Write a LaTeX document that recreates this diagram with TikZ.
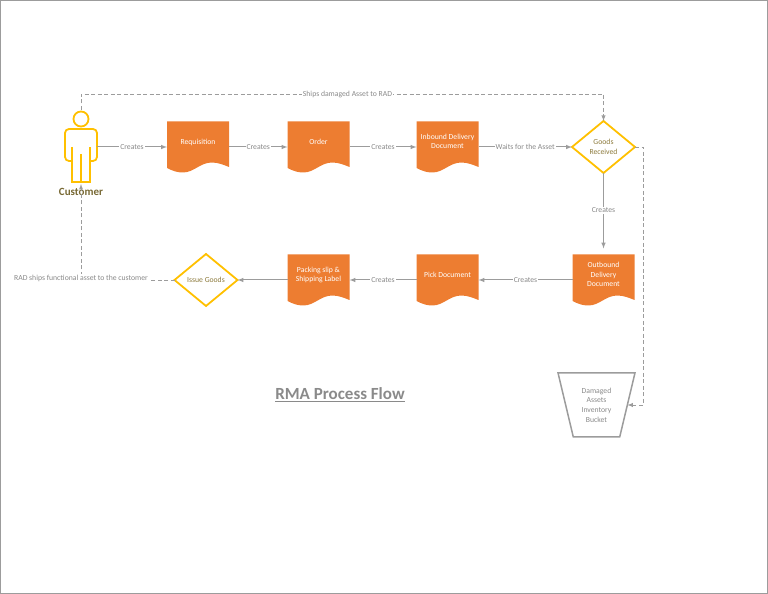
\documentclass[tikz,border=0pt]{standalone}
\usepackage{fontspec}
\setmainfont{Carlito}
\usetikzlibrary{positioning,shapes.geometric}
\definecolor{docfill}{HTML}{ED7D31}
\definecolor{decline}{HTML}{FFC000}
\definecolor{flowgray}{HTML}{9C9C9C}
\definecolor{labelgray}{HTML}{8A8A8A}
\definecolor{golden}{HTML}{8C7A3C}

\makeatletter
\newcommand\docpt[2]{\pgfpoint{\docx+#1pt}{\docy+#2pt}}
\pgfdeclareshape{wavedoc}{
  \inheritsavedanchors[from=rectangle]
  \inheritanchorborder[from=rectangle]
  \inheritanchor[from=rectangle]{center}
  \inheritanchor[from=rectangle]{north}
  \inheritanchor[from=rectangle]{south}
  \inheritanchor[from=rectangle]{east}
  \inheritanchor[from=rectangle]{west}
  \backgroundpath{
    \southwest
    \edef\docx{\the\pgf@x}\edef\docy{\the\pgf@y}
    \pgfpathmoveto{\docpt{0}{4.5}}
    \pgfpathcurveto{\docpt{6}{1.5}}{\docpt{10}{0}}{\docpt{16}{0}}
    \pgfpathcurveto{\docpt{27}{0}}{\docpt{33}{10}}{\docpt{45}{10}}
    \pgfpathcurveto{\docpt{51}{10}}{\docpt{57}{7.5}}{\docpt{62}{5.5}}
    \pgfpathlineto{\docpt{62}{51}}
    \pgfpathlineto{\docpt{0}{51}}
    \pgfpathclose
  }
}
\makeatother

\begin{document}
\begin{tikzpicture}[x=1pt, y=1pt, >=latex, on grid, line width=1pt,
    doc/.style={wavedoc, fill=docfill, minimum width=62pt, minimum height=51pt, inner sep=0pt, outer sep=0pt, align=center, text=white, text depth=11pt, font=\fontsize{7.7}{9.4}\selectfont},
    check/.style={diamond, draw=decline, line width=1.8pt, aspect=1.2, minimum width=63pt, minimum height=52pt, inner sep=0pt, outer sep=0pt, align=center, text=golden, font=\fontsize{7.7}{9.4}\selectfont},
    lbl/.style={fill=white, text=labelgray, inner sep=.8pt, font=\fontsize{7.7}{9}\selectfont},
    flow/.style={draw=flowgray, ->},
    ret/.style={draw=flowgray, ->, line width=.9pt, dash pattern=on 4pt off 2.5pt}]
   \useasboundingbox (0,0) rectangle (768,594);
   \draw[flowgray, line width=1pt] (.5,.5) rectangle (767.5,593.5);

   % top row
   \node[minimum width=32pt, minimum height=74pt, inner sep=0pt, outer sep=0pt] (cust) at (81,447) {};
   \node[doc]   (req)     [right=117pt of cust]   {Requisition};
   \node[doc]   (order)   [right=120.5pt of req]  {Order};
   \node[doc]   (inbound) [right=129pt of order]  {Inbound Delivery\\Document};
   \node[check] (goods)   [right=156pt of inbound] {Goods\\Received};
   \node[text=golden!85!black, font=\fontsize{11}{13}\bfseries\selectfont] (custname) [below=45pt of cust] {Customer};

   % person
   \draw[decline, line width=1.8pt, shift={(cust.center)}] (0,28) circle (7.5);
   \draw[decline, line width=1.8pt, rounded corners=4pt, shift={(cust.center)}] (-9,-14) -- (-16,-14) -- (-16,18) -- (16,18) -- (16,-14) -- (9,-14);
   \draw[decline, line width=1.8pt, shift={(cust.center)}] (-9,0) -- (-9,-35) -- (9,-35) -- (9,0) (0,-7) -- (0,-35);

   % bottom row
   \node[doc]   (outbound) [below=133pt of goods]    {Outbound\\Delivery\\Document};
   \node[doc]   (pick)     [left=156pt of outbound]  {Pick Document};
   \node[doc]   (packing)  [left=129pt of pick]      {Packing slip \&\\Shipping Label};
   \node[check] (issue)    [left=112.5pt of packing] {Issue Goods};

   \node[trapezium, trapezium stretches=true, trapezium angle=74, shape border rotate=180, draw=flowgray, line width=1.5pt, minimum width=77pt, minimum height=64pt, inner sep=0pt, outer sep=0pt, align=center, text=labelgray, font=\fontsize{7.7}{9.6}\selectfont] (bucket) [below=125pt of outbound, xshift=-7pt] {Damaged\\Assets\\Inventory\\Bucket};

   \node[text=labelgray, font=\fontsize{17}{19}\bfseries\selectfont] (title) at (340,199) {\underline{RMA Process Flow}};

   \path (cust)     edge [flow]                 node [lbl] {Creates}            (req)
         (req)      edge [flow]                 node [lbl] {Creates}            (order)
         (order)    edge [flow]                 node [lbl] {Creates}            (inbound)
         (inbound)  edge [flow]                 node [lbl] {Waits for the Asset} (goods)
         (goods)    edge [flow, shorten >=6pt]  node [lbl, pos=.46] {Creates}   (outbound)
         (outbound) edge [flow]                 node [lbl] {Creates}            (pick)
         (pick)     edge [flow]                 node [lbl] {Creates}            (packing)
         (packing)  edge [flow]                                                 (issue);

   \draw[ret] (cust.north) -- ++(0,16) -| node [lbl, pos=.255] {Ships damaged Asset to RAD} (goods.north);
   \draw[ret] (issue.west) -| node [lbl, pos=.5, yshift=1.5pt] {RAD ships functional asset to the customer} (cust.south);
   \draw[ret] (goods.east) -- ++(8,0) |- (bucket.east);
\end{tikzpicture}
\end{document}
